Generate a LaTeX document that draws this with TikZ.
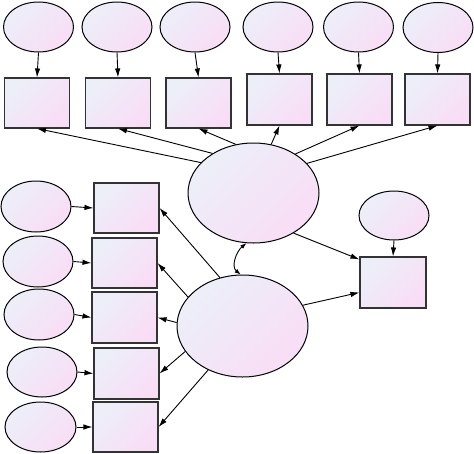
\documentclass[tikz,border=0pt]{standalone}
\usetikzlibrary{shapes.geometric,arrows.meta}
\definecolor{shA}{RGB}{236,239,248}
\definecolor{shB}{RGB}{249,221,246}
\tikzset{
  x=1pt,y=-1pt,
  fillsh/.style={top color=shA,bottom color=shB,shading angle=45},
  lat/.style={ellipse,draw=black,line width=1pt,fillsh,inner sep=0pt,minimum width=70pt,minimum height=50pt},
  fac/.style={ellipse,draw=black,line width=1pt,fillsh,inner sep=0pt,minimum width=131pt,minimum height=101pt},
  obs/.style={rectangle,draw=black!80,line width=1.1pt,fillsh,inner sep=0pt,minimum width=65pt,minimum height=50pt},
  arr/.style={line width=0.9pt,-{Latex[length=9pt,width=5.5pt]}},
  darr/.style={line width=0.9pt,{Latex[length=6pt,width=4.5pt]}-{Latex[length=6pt,width=4.5pt]}}
}
\begin{document}
\begin{tikzpicture}
\useasboundingbox (0,0) rectangle (474,453);
\clip (0,0) rectangle (474,453);
% top error ellipses
\node[lat] (E1) at (38.5,27) {};
\node[lat] (E2) at (117,27) {};
\node[lat] (E3) at (195,27) {};
\node[lat] (E4) at (278,27) {};
\node[lat] (E5) at (358.5,27) {};
\node[lat] (E6) at (438,27.5) {};
% top boxes
\node[obs] (T1) at (37,103) {};
\node[obs] (T2) at (118,103) {};
\node[obs] (T3) at (198.5,103) {};
\node[obs,minimum height=51pt] (T4) at (279.5,99.5) {};
\node[obs,minimum height=51pt] (T5) at (359.5,99.5) {};
\node[obs,minimum height=51pt] (T6) at (437.5,99.5) {};
% factors
\node[fac,minimum height=100pt] (F1) at (253.5,193) {};
\node[fac,minimum height=102pt] (F2) at (242.5,326) {};
% right
\node[lat,minimum height=49pt] (R) at (394,215.5) {};
\node[obs,minimum width=66pt,minimum height=51pt] (RB) at (393,282.5) {};
% left boxes
\node[obs] (B1) at (126.5,208) {};
\node[obs] (B2) at (124.5,263) {};
\node[obs,minimum height=51pt] (B3) at (124.5,317.5) {};
\node[obs,minimum height=51pt] (B4) at (126.5,373.5) {};
\node[obs] (B5) at (125.5,427) {};
% left ellipses
\node[lat,minimum height=51pt] (L1) at (36,206.5) {};
\node[lat,minimum height=51pt] (L2) at (38,261.5) {};
\node[lat,minimum height=51pt] (L3) at (39,314.5) {};
\node[lat] (L4) at (42,372) {};
\node[lat,minimum width=71pt] (L5) at (40.5,427) {};
% error arrows
\foreach \i in {1,...,6} \draw[arr] (E\i.south) -- (T\i.north);
\foreach \i in {1,...,5} \draw[arr] (L\i.east) -- (B\i.west);
\draw[arr] (R.south) -- (RB.north);
% F1 loadings
\draw[arr] (F1.150) -- (T1.south);
\draw[arr] (F1.136) -- (T2.south);
\draw[arr] (F1.110) -- (T3.south);
\draw[arr] (F1.70) -- (T4.south);
\draw[arr] (F1.43) -- (T5.south);
\draw[arr] (F1.29) -- (T6.south);
% F2 loadings
\draw[arr] (F2.115) -- (B1.east);
\draw[arr] (F2.152) -- (B2.east);
\draw[arr] (F2.177) -- (B3.east);
\draw[arr] (F2.204) -- (B4.east);
\draw[arr] (F2.232) -- (B5.east);
% paths to outcome
\draw[arr] (F1.315) -- ([yshift=-3pt]RB.north west);
\draw[arr] (F2.19) -- ([yshift=-36pt]RB.north west);
% covariance
\draw[darr] (F1.262) .. controls +(-10,8) and +(-10,-8) .. (F2.92);
\end{tikzpicture}
\end{document}
